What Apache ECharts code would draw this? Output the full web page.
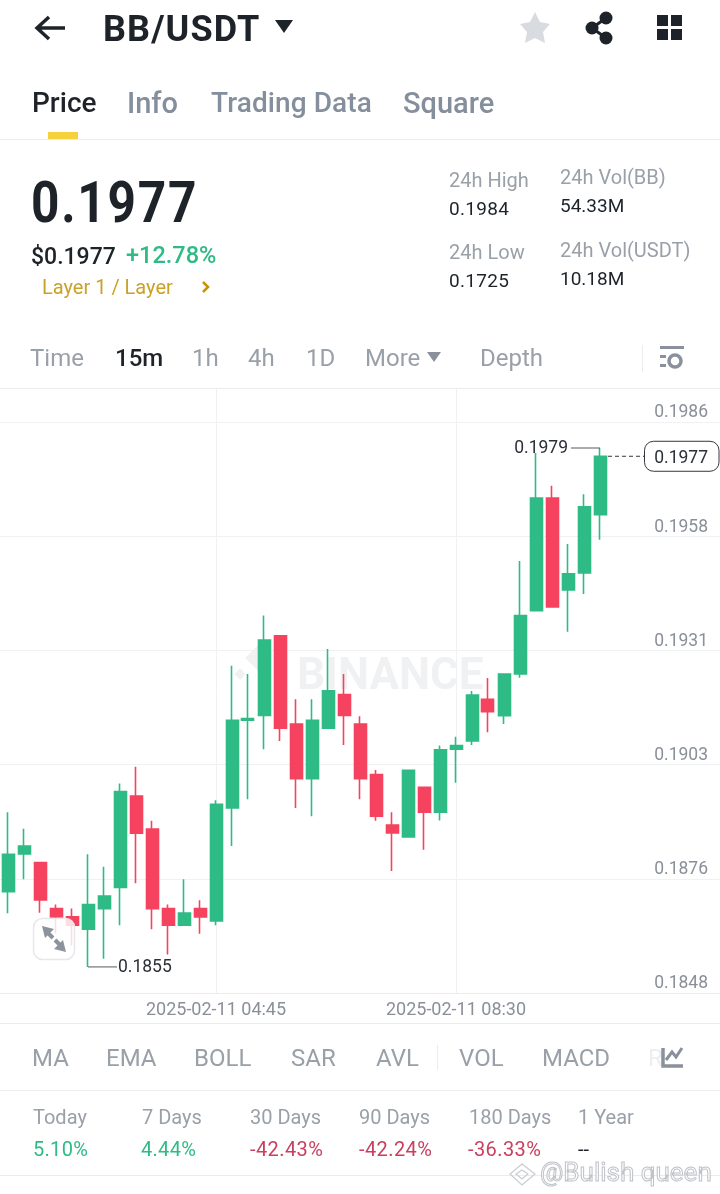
<!DOCTYPE html>
<html>
<head>
<meta charset="utf-8">
<script src="https://cdn.jsdelivr.net/npm/echarts@6/dist/echarts.min.js"></script>
<style>
  html, body { margin: 0; padding: 0; background: #fff; }
  #page { position: relative; width: 720px; height: 1194px; overflow: hidden; font-family: Roboto, sans-serif; }
  #chart { position: absolute; left: 0; top: 0; width: 720px; height: 1194px; }
  .t { position: absolute; white-space: nowrap; line-height: 1; transform-origin: left center; }
  .rule { position: absolute; left: 0; width: 720px; height: 1px; background: #eaecef; }
  svg { position: absolute; }
</style>
</head>
<body>
<div id="page">
  <div id="chart"></div>
  <div id="chrome"></div>
  <svg style="left:0;top:0" width="720" height="1194" viewBox="0 0 720 1194">
    <!-- header icons -->
    <path d="M65 28H38M49 17L37 28L49 39" fill="none" stroke="#1e2329" stroke-width="3.5"/>
    <path d="M275 20H293L284 33Z" fill="#1e2329"/>
    <path d="M535 12L540 22L550 24L543 32L545 43L535 38L525 43L527 32L520 24L530 22Z" fill="#d8dbe0"/>
    <g fill="#1e2329"><circle cx="606" cy="18" r="6.5"/><circle cx="592" cy="28" r="6.5"/><circle cx="606" cy="38" r="6.5"/></g>
    <path d="M606 18L592 28L606 38" fill="none" stroke="#1e2329" stroke-width="3"/>
    <g fill="#1e2329"><rect x="657" y="15" width="11" height="11"/><rect x="671" y="15" width="11" height="11"/><rect x="657" y="29" width="11" height="11"/><rect x="671" y="29" width="11" height="11"/></g>
    <rect x="48" y="132" width="30" height="7" fill="#f5d13c"/>
    <path d="M203 282L208 287L203 292" fill="none" stroke="#c99400" stroke-width="2.5"/>
    <!-- period row icons -->
    <path d="M427 352H441L434 362Z" fill="#8a919c"/>
    <rect x="642" y="345" width="1" height="27" fill="#eaecef"/>
    <g fill="#8a919c"><rect x="660" y="346" width="24" height="3"/><rect x="660" y="355" width="6" height="3"/><rect x="660" y="364" width="6" height="3"/></g>
    <circle cx="675" cy="361" r="6" fill="none" stroke="#8a919c" stroke-width="3.5"/>
    <!-- expand button -->
    <rect x="33.5" y="918.5" width="41" height="41" rx="9" fill="#fff" fill-opacity="0.82" stroke="#e6e8ea" stroke-width="1.5"/>
    <g fill="none" stroke="#8d939c" stroke-width="4"><path d="M47 932L53 938"/><path d="M55 940L61 946"/></g>
    <g fill="#8d939c"><path d="M42 926L54 929L45 938Z"/><path d="M66 952L54 949L63 940Z"/></g>
    <!-- indicator row icons -->
    <rect x="437" y="1045" width="1" height="25" fill="#eaecef"/>
    <path d="M663 1048V1066H683" fill="none" stroke="#8a919c" stroke-width="3.5"/>
    <path d="M666 1060L672 1052L676 1057L682 1048" fill="none" stroke="#8a919c" stroke-width="3"/>
    <!-- corner mark -->
    <path d="M522 1164L535 1174L522 1185L510 1174Z M522 1170L528 1174L522 1179L516 1174Z" fill="none" stroke="#c9ccd1" stroke-width="1.2"/>
  </svg>
</div>
<script>
// === Data === //
const categories = [
  '2025-02-11 01:30', '2025-02-11 01:45', '2025-02-11 02:00', '2025-02-11 02:15', '2025-02-11 02:30',
  '2025-02-11 02:45', '2025-02-11 03:00', '2025-02-11 03:15', '2025-02-11 03:30', '2025-02-11 03:45',
  '2025-02-11 04:00', '2025-02-11 04:15', '2025-02-11 04:30', '2025-02-11 04:45', '2025-02-11 05:00',
  '2025-02-11 05:15', '2025-02-11 05:30', '2025-02-11 05:45', '2025-02-11 06:00', '2025-02-11 06:15',
  '2025-02-11 06:30', '2025-02-11 06:45', '2025-02-11 07:00', '2025-02-11 07:15', '2025-02-11 07:30',
  '2025-02-11 07:45', '2025-02-11 08:00', '2025-02-11 08:15', '2025-02-11 08:30', '2025-02-11 08:45',
  '2025-02-11 09:00', '2025-02-11 09:15', '2025-02-11 09:30', '2025-02-11 09:45', '2025-02-11 10:00',
  '2025-02-11 10:15', '2025-02-11 10:30', '2025-02-11 10:45', '2025-02-11 11:00', '2025-02-11 11:15',
  '2025-02-11 11:30', '2025-02-11 11:45', '2025-02-11 12:00', '2025-02-11 12:15', '2025-02-11 12:30'
]
const opens = [
  0.18725, 0.18816, 0.18795, 0.18684, 0.18664, 0.18634, 0.18684, 0.18735, 0.18956, 0.18876,
  0.18684, 0.18644, 0.18684, 0.18654, 0.18927, 0.19139, 0.19151, 0.19343, 0.1913, 0.18998,
  0.1912, 0.19201, 0.1913, 0.19008, 0.18886, 0.18857, 0.18977, 0.18917, 0.19069, 0.19089,
  0.1919, 0.1915, 0.19251, 0.19404, 0.19676, 0.19454, 0.19495, 0.19636
]
const closes = [
  0.18815, 0.18835, 0.18705, 0.18664, 0.18644, 0.18694, 0.18714, 0.18967, 0.18866, 0.18684,
  0.18644, 0.18673, 0.18664, 0.18936, 0.19139, 0.19143, 0.19333, 0.1912, 0.18998, 0.19139,
  0.1921, 0.19151, 0.18998, 0.18907, 0.18867, 0.19018, 0.18917, 0.19068, 0.19078, 0.192,
  0.1916, 0.19251, 0.19392, 0.19676, 0.19413, 0.19493, 0.19655, 0.19777
]
const lows = [
  0.18673, 0.18755, 0.18674, 0.18624, 0.18595, 0.18543, 0.18563, 0.18644, 0.18745, 0.18634,
  0.18573, 0.18644, 0.18623, 0.18644, 0.18835, 0.18948, 0.19069, 0.19089, 0.18927, 0.18907,
  0.1912, 0.19079, 0.18948, 0.18896, 0.18775, 0.18857, 0.18826, 0.18897, 0.18988, 0.19079,
  0.1911, 0.1913, 0.19242, 0.19404, 0.19413, 0.19353, 0.19444, 0.19575
]
const highs = [
  0.18917, 0.18877, 0.18795, 0.18694, 0.18684, 0.18815, 0.18785, 0.18986, 0.19027, 0.18896,
  0.18694, 0.18755, 0.18704, 0.18946, 0.19271, 0.19251, 0.19392, 0.19343, 0.1919, 0.1919,
  0.19311, 0.19251, 0.19149, 0.19019, 0.18917, 0.19018, 0.18977, 0.19078, 0.19099, 0.1921,
  0.19241, 0.19251, 0.19524, 0.19785, 0.19706, 0.19565, 0.19685, 0.19797
]
const priceTicks = [0.1848, 0.18756, 0.19032, 0.19308, 0.19584, 0.1986]
const timeTickIndexes = [13, 28]
const lowLabel = '0.1855'
const highLabel = '0.1979'
const lastLabel = '0.1977'

const green = '#2ebb85'
const red = '#f5435f'

// === Page text === //
const gray = '#848e9c'
const dark = '#1e2329'
const soft = '#9aa0a8'
const pageTexts = [
  ['BB/USDT', 103, 29, 36, dark, 700, 1.1],
  ['Price', 32, 103, 28, dark, 500], ['Info', 127, 103, 29, gray, 500],
  ['Trading Data', 211, 103, 28, gray, 500, 0.1], ['Square', 403, 103, 29, gray, 500],
  ['0.1977', 31, 202, 57, dark, 700, 2, 0.87],
  ['$0.1977', 31, 256, 23, dark, 500], ['+12.78%', 126, 256, 23.5, '#2ebb85', 500],
  ['Layer 1 / Layer', 42, 287, 20, '#c9a227', 400],
  ['24h High', 449, 180, 20, soft, 400], ['0.1984', 449, 208, 19, dark, 400, 0.3],
  ['24h Low', 449, 252, 20, soft, 400], ['0.1725', 449, 280, 19, dark, 400, 0.3],
  ['24h Vol(BB)', 560, 177, 20, soft, 400], ['54.33M', 560, 205, 19, dark, 400],
  ['24h Vol(USDT)', 560, 250, 20, soft, 400], ['10.18M', 560, 278, 19, dark, 400],
  ['Time', 30, 358, 24, soft, 400], ['15m', 115, 358, 24, dark, 500], ['1h', 192, 358, 24, soft, 400],
  ['4h', 248, 358, 24, soft, 400], ['1D', 306, 358, 24, soft, 400], ['More', 365, 358, 24, soft, 400],
  ['Depth', 480, 358, 24, soft, 400],
  ['MA', 32, 1058, 24, soft, 400], ['EMA', 106, 1058, 24, soft, 400], ['BOLL', 194, 1058, 24, soft, 400],
  ['SAR', 291, 1058, 24, soft, 400], ['AVL', 376, 1058, 24, soft, 400], ['VOL', 459, 1058, 24, soft, 400],
  ['MACD', 542, 1058, 24, soft, 400], ['R', 648, 1058, 24, '#eceef0', 400],
  ['Today', 33, 1117, 20, soft, 400], ['7 Days', 142, 1117, 20, soft, 400], ['30 Days', 250, 1117, 20, soft, 400],
  ['90 Days', 359, 1117, 20, soft, 400], ['180 Days', 469, 1117, 20, soft, 400], ['1 Year', 578, 1117, 20, soft, 400],
  ['5.10%', 33, 1149, 20, '#2ebb85', 400, 0.3], ['4.44%', 141, 1149, 20, '#2ebb85', 400, 0.3],
  ['-42.43%', 250, 1149, 20, '#c8405f', 400, 0.4], ['-42.24%', 359, 1149, 20, '#c8405f', 400, 0.4],
  ['-36.33%', 468, 1149, 20, '#c8405f', 400, 0.4], ['--', 578, 1149, 20, dark, 400]
]
const ruleRows = [139, 388, 1023, 1090, 1175]

const chrome = document.getElementById('chrome')
pageTexts.forEach(([text, x, y, size, color, weight, spacing, squeeze]) => {
  const el = document.createElement('div')
  el.className = 't'
  el.textContent = text
  el.style.cssText = `left:${x}px;top:${y}px;font-size:${size}px;color:${color};font-weight:${weight};letter-spacing:${spacing || 0}px;transform:translateY(-50%) scaleX(${squeeze || 1})`
  chrome.appendChild(el)
})
ruleRows.forEach(y => {
  const el = document.createElement('div')
  el.className = 'rule'
  el.style.top = y + 'px'
  chrome.appendChild(el)
})
const mark = document.createElement('div')
mark.className = 't'
mark.textContent = '@Bulish queen'
mark.style.cssText = 'left:540px;top:1172px;font-size:26px;color:#fff;-webkit-text-stroke:1px #bfc2c7;transform:translateY(-50%)'
chrome.appendChild(mark)

// === Chart === //
const chart = echarts.init(document.getElementById('chart'), null, { renderer: 'canvas' })
const candles = opens.map((open, i) => [open, closes[i], lows[i], highs[i]])
const isTimeTick = i => timeTickIndexes.includes(i)

chart.setOption({
  animation: false,
  grid: { left: 0, right: 0, top: 388, height: 605 },
  xAxis: {
    type: 'category',
    data: categories,
    boundaryGap: true,
    axisLine: { lineStyle: { color: '#eaecef' } },
    axisTick: { show: false, alignWithLabel: true, interval: isTimeTick },
    axisLabel: { interval: isTimeTick, color: '#8a8f98', fontSize: 18, margin: 8, fontFamily: 'Roboto', hideOverlap: false },
    splitLine: { show: true, alignWithLabel: true, interval: isTimeTick, lineStyle: { color: '#f0f1f3' } }
  },
  yAxis: {
    type: 'value',
    position: 'right',
    min: 0.1848,
    max: 0.19942,
    axisLine: { show: false },
    axisTick: { show: false, customValues: priceTicks },
    axisLabel: {
      inside: true,
      customValues: priceTicks,
      margin: 12,
      color: '#8a8f98',
      fontSize: 17.5,
      fontFamily: 'Roboto',
      verticalAlign: 'bottom',
      align: 'right',
      lineHeight: 18,
      formatter: v => v.toFixed(4)
    },
    splitLine: { show: true, lineStyle: { color: '#f0f1f3' } }
  },
  series: [
    {
      type: 'candlestick',
      data: candles,
      barWidth: 12.5,
      z: 3,
      itemStyle: { color: green, color0: red, borderColor: green, borderColor0: red, borderWidth: 1.6 }
    }
  ]
})

// annotations hang off the data through the chart's own scales
const lastIndex = opens.length - 1
const lowIndex = lows.indexOf(Math.min(...lows))
const highIndex = highs.indexOf(Math.max(...highs))
const lowPt = chart.convertToPixel({ seriesIndex: 0 }, [lowIndex, lows[lowIndex]])
const highPt = chart.convertToPixel({ seriesIndex: 0 }, [highIndex, highs[highIndex]])
const lastPt = chart.convertToPixel({ seriesIndex: 0 }, [lastIndex, closes[lastIndex]])

const labelStyle = { fill: '#2b2f36', fontSize: 17.5, fontFamily: 'Roboto' }
chart.setOption({
  graphic: [
    // watermark sits under the candles
    { type: 'text', z: 1, silent: true, left: 297, top: 656, style: { text: 'BINANCE', fill: '#f0f1f2', fontSize: 44, fontWeight: 700, fontFamily: 'Roboto' } },
    { type: 'rect', z: 1, silent: true, x: 258, y: 658, rotation: Math.PI / 4, shape: { x: -9, y: -9, width: 18, height: 18 }, style: { fill: '#f0f1f2' } },
    { type: 'rect', z: 1, silent: true, x: 240, y: 674, rotation: Math.PI / 4, shape: { x: -4, y: -4, width: 8, height: 8 }, style: { fill: '#f0f1f2' } },
    // low
    { type: 'line', z: 5, shape: { x1: lowPt[0], y1: lowPt[1], x2: lowPt[0] + 29, y2: lowPt[1] }, style: { stroke: '#55595f', lineWidth: 1 } },
    { type: 'text', z: 5, x: lowPt[0] + 30, y: lowPt[1] + 1, style: { ...labelStyle, text: lowLabel, verticalAlign: 'middle' } },
    // high
    { type: 'line', z: 5, shape: { x1: highPt[0], y1: highPt[1], x2: highPt[0] - 29, y2: highPt[1] }, style: { stroke: '#55595f', lineWidth: 1 } },
    { type: 'text', z: 5, x: highPt[0] - 32, y: highPt[1] + 1, style: { ...labelStyle, text: highLabel, align: 'right', verticalAlign: 'middle' } },
    // last price
    { type: 'line', z: 5, shape: { x1: lastPt[0] + 8, y1: lastPt[1], x2: 645, y2: lastPt[1] }, style: { stroke: '#33373d', lineWidth: 1, lineDash: [4, 3] } },
    { type: 'rect', z: 5, shape: { x: 644.5, y: lastPt[1] - 15, width: 74.5, height: 30, r: 9 }, style: { fill: '#fff', stroke: '#33373d', lineWidth: 1 } },
    { type: 'text', z: 6, x: 708, y: lastPt[1] + 2, style: { ...labelStyle, text: lastLabel, align: 'right', verticalAlign: 'middle' } }
  ]
})
</script>
</body>
</html>
